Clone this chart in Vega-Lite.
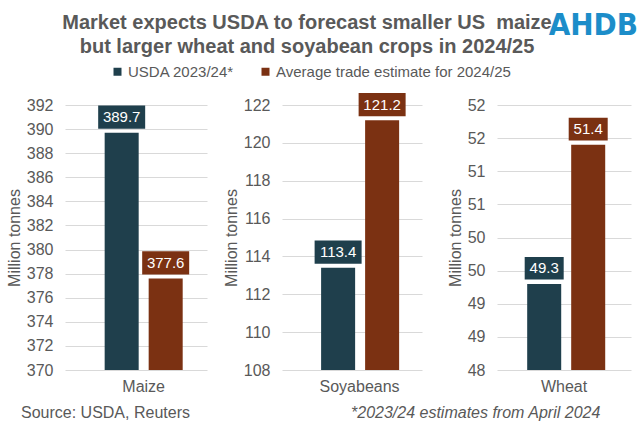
{
  "$schema": "https://vega.github.io/schema/vega-lite/v6.json",
  "padding": {"left": 6, "top": 10, "right": 4, "bottom": 4},
  "bounds": "flush",
  "spacing": 75,
  "title": {
    "text": ["Market expects USDA to forecast smaller US\u00a0 maize", "but larger wheat and soyabean crops in 2024/25"],
    "fontSize": 20, "fontWeight": "bold", "color": "#595959", "anchor": "start", "align": "center", "frame": "group", "dx": 242, "offset": -47, "lineHeight": 24
  },
  "datasets": {
    "crops": [
      {"crop": "Maize", "series": "USDA 2023/24*", "value": 389.7},
      {"crop": "Maize", "series": "Average trade estimate for 2024/25", "value": 377.6},
      {"crop": "Soyabeans", "series": "USDA 2023/24*", "value": 113.4},
      {"crop": "Soyabeans", "series": "Average trade estimate for 2024/25", "value": 121.2},
      {"crop": "Wheat", "series": "USDA 2023/24*", "value": 49.3},
      {"crop": "Wheat", "series": "Average trade estimate for 2024/25", "value": 51.4}
    ]
  },
  "hconcat": [
    {
      "width": 142, "height": 265,
      "data": {"name": "crops"},
      "transform": [{"filter": "datum.crop === 'Maize'"}],
      "title": {"text": "Source: USDA, Reuters", "orient": "bottom", "anchor": "start", "frame": "group", "dx": -44, "offset": 11, "fontSize": 16, "fontWeight": "normal", "color": "#595959"},
      "encoding": {
        "x": {"field": "crop", "type": "nominal", "title": null, "scale": {"paddingOuter": 0.41, "paddingInner": 0, "align": 0.62}},
        "xOffset": {"field": "series", "type": "nominal", "sort": ["USDA 2023/24*", "Average trade estimate for 2024/25"], "scale": {"paddingInner": 0.227, "paddingOuter": 0}},
        "y": {"field": "value", "type": "quantitative", "title": "Million tonnes", "scale": {"domain": [370, 392], "zero": false, "nice": false}, "axis": {"values": [370, 372, 374, 376, 378, 380, 382, 384, 386, 388, 390, 392]}}
      },
      "layer": [
        {"mark": {"type": "bar", "clip": true}, "encoding": {"color": {"field": "series", "type": "nominal", "title": null, "scale": {"domain": ["USDA 2023/24*", "Average trade estimate for 2024/25"], "range": ["#1F3F4C", "#7B3112"]}}}},
        {"mark": {"type": "point", "shape": "M-1,-1.16H1V-0.17H-1Z", "size": 2209, "filled": true, "opacity": 1, "strokeWidth": 0}, "encoding": {"color": {"field": "series", "type": "nominal", "title": null}}},
        {"mark": {"type": "text", "dy": -15.5, "color": "white", "fontSize": 15, "baseline": "middle"}, "encoding": {"text": {"field": "value", "type": "quantitative", "format": ".1f"}}}
      ]
    },
    {
      "width": 140, "height": 265,
      "data": {"name": "crops"},
      "transform": [{"filter": "datum.crop === 'Soyabeans'"}],
      "title": {"text": "*2023/24 estimates from April 2024", "orient": "bottom", "anchor": "start", "frame": "group", "dx": 69, "offset": 11, "fontSize": 16, "fontWeight": "normal", "fontStyle": "italic", "color": "#595959"},
      "encoding": {
        "x": {"field": "crop", "type": "nominal", "title": null, "scale": {"paddingOuter": 0.41, "paddingInner": 0, "align": 0.62}},
        "xOffset": {"field": "series", "type": "nominal", "sort": ["USDA 2023/24*", "Average trade estimate for 2024/25"], "scale": {"paddingInner": 0.227, "paddingOuter": 0}},
        "y": {"field": "value", "type": "quantitative", "title": "Million tonnes", "scale": {"domain": [108, 122], "zero": false, "nice": false}, "axis": {"values": [108, 110, 112, 114, 116, 118, 120, 122]}}
      },
      "layer": [
        {"mark": {"type": "bar", "clip": true}, "encoding": {"color": {"field": "series", "type": "nominal", "title": null}}},
        {"mark": {"type": "point", "shape": "M-1,-1.16H1V-0.17H-1Z", "size": 2209, "filled": true, "opacity": 1, "strokeWidth": 0}, "encoding": {"color": {"field": "series", "type": "nominal", "title": null}}},
        {"mark": {"type": "text", "dy": -15.5, "color": "white", "fontSize": 15, "baseline": "middle"}, "encoding": {"text": {"field": "value", "type": "quantitative", "format": ".1f"}}}
      ]
    },
    {
      "width": 134, "height": 265,
      "data": {"name": "crops"},
      "transform": [{"filter": "datum.crop === 'Wheat'"}],
      "title": {"text": "AHDB", "orient": "top", "anchor": "end", "frame": "group", "dx": 7, "offset": 55, "fontSize": 31, "font": "DejaVu Sans Condensed", "fontWeight": "bold", "color": "#1C8DC9"},
      "encoding": {
        "x": {"field": "crop", "type": "nominal", "title": null, "scale": {"paddingOuter": 0.41, "paddingInner": 0}},
        "xOffset": {"field": "series", "type": "nominal", "sort": ["USDA 2023/24*", "Average trade estimate for 2024/25"], "scale": {"paddingInner": 0.227, "paddingOuter": 0}},
        "y": {"field": "value", "type": "quantitative", "title": "Million tonnes", "scale": {"domain": [48, 52], "zero": false, "nice": false}, "axis": {"values": [48, 48.5, 49, 49.5, 50, 50.5, 51, 51.5, 52], "format": ".0f"}}
      },
      "layer": [
        {"mark": {"type": "bar", "clip": true}, "encoding": {"color": {"field": "series", "type": "nominal", "title": null}}},
        {"mark": {"type": "point", "shape": "M-1,-1.38H1V-0.22H-1Z", "size": 1521, "filled": true, "opacity": 1, "strokeWidth": 0}, "encoding": {"color": {"field": "series", "type": "nominal", "title": null}}},
        {"mark": {"type": "text", "dy": -15.5, "color": "white", "fontSize": 15, "baseline": "middle"}, "encoding": {"text": {"field": "value", "type": "quantitative", "format": ".1f"}}}
      ]
    }
  ],
  "config": {
    "font": "Liberation Sans",
    "view": {"stroke": null},
    "legend": {"orient": "none", "legendX": 45, "legendY": -41, "direction": "horizontal", "symbolType": "square", "symbolSize": 64, "symbolStrokeWidth": 0, "labelFontSize": 15, "labelLimit": 0, "labelColor": "#595959", "columnPadding": 24, "symbolOffset": 0, "labelOffset": 3, "padding": 0},
    "axisX": {"labelAngle": 0, "ticks": false, "domain": false, "grid": false, "labelFontSize": 16, "labelColor": "#595959", "labelPadding": 8},
    "axisY": {"grid": true, "gridColor": "#D9D9D9", "domain": false, "ticks": false, "labelFontSize": 16, "labelColor": "#595959", "labelPadding": 12, "titleFontSize": 16, "titleFontWeight": "normal", "titleColor": "#595959", "titlePadding": 4}
  }
}
